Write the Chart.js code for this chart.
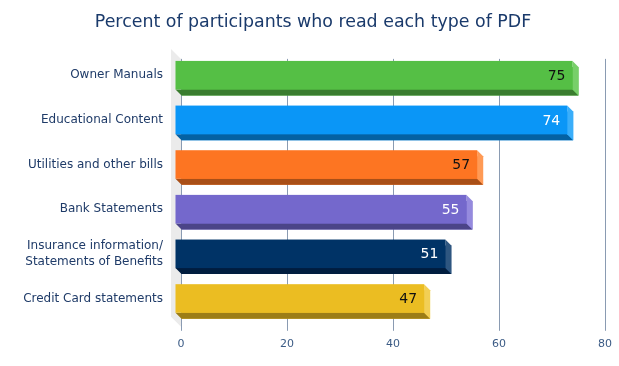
<!DOCTYPE html>
<html lang="en">
<head>
    <meta charset="UTF-8">
    <title>PDF reading</title>
    <script src="https://cdn.jsdelivr.net/npm/chart.js"></script>
    <style>
        html, body { margin: 0; padding: 0; background: #fff; }
        .chart-container { position: relative; width: 619px; height: 366px; }
    </style>
</head>
<body>
    <div class="chart-container">
        <canvas id="pdfChart"></canvas>
    </div>

    <script>
        const categories = [
            'Owner Manuals',
            'Educational Content',
            'Utilities and other bills',
            'Bank Statements',
            ['Insurance information/', 'Statements of Benefits'],
            'Credit Card statements'
        ];
        const percents = [75, 74, 57, 55, 51, 47];
        const xTicks = [0, 20, 40, 60, 80];

        const frontColors = ['#55bf45', '#0a96f7', '#fd7522', '#7468cc', '#003366', '#ebbd22'];
        const sideColors = ['#78cf6a', '#3aaefa', '#ff9a55', '#958ade', '#2e5680', '#f2cf55'];
        const bottomColors = ['#3a7d2f', '#0461a3', '#a94f17', '#4b4488', '#001d3f', '#9c7d16'];
        const labelColors = ['#111', '#fff', '#111', '#fff', '#fff', '#111'];

        const DEPTH = 6;
        const FONT = '"DejaVu Sans", Verdana, sans-serif';

        // light grey side wall behind the category axis
        const wallPlugin = {
            id: 'wall',
            beforeDraw(chart) {
                const { ctx, chartArea: a } = chart;
                ctx.save();
                ctx.fillStyle = '#ebebeb';
                ctx.beginPath();
                ctx.moveTo(a.left - 10, a.top - 10);
                ctx.lineTo(a.left, a.top);
                ctx.lineTo(a.left, a.bottom);
                ctx.lineTo(a.left - 10, a.bottom - 10);
                ctx.closePath();
                ctx.fill();
                ctx.restore();
            }
        };

        // extrude each bar: bottom face, right face, then the front face
        const bar3dPlugin = {
            id: 'bar3d',
            afterDatasetsDraw(chart) {
                const { ctx } = chart;
                const meta = chart.getDatasetMeta(0);
                const d = DEPTH;
                ctx.save();
                meta.data.forEach((bar, i) => {
                    const { x, y, base, height } = bar.getProps(['x', 'y', 'base', 'height'], true);
                    const top = y - height / 2;
                    const bot = y + height / 2;

                    ctx.fillStyle = bottomColors[i];
                    ctx.beginPath();
                    ctx.moveTo(base - d, bot - d);
                    ctx.lineTo(x - d, bot - d);
                    ctx.lineTo(x, bot);
                    ctx.lineTo(base, bot);
                    ctx.closePath();
                    ctx.fill();

                    ctx.fillStyle = sideColors[i];
                    ctx.beginPath();
                    ctx.moveTo(x - d, top - d);
                    ctx.lineTo(x, top);
                    ctx.lineTo(x, bot);
                    ctx.lineTo(x - d, bot - d);
                    ctx.closePath();
                    ctx.fill();

                    ctx.fillStyle = frontColors[i];
                    ctx.fillRect(base - d, top - d, x - base, height);

                    ctx.fillStyle = labelColors[i];
                    ctx.font = '14px ' + FONT;
                    ctx.textAlign = 'right';
                    ctx.textBaseline = 'middle';
                    ctx.fillText(percents[i], x - d - 7, y - d + 1);
                });
                ctx.restore();
            }
        };

        const ctx = document.getElementById('pdfChart').getContext('2d');
        new Chart(ctx, {
            type: 'bar',
            data: {
                labels: categories,
                datasets: [{
                    data: percents,
                    backgroundColor: frontColors,
                    borderWidth: 0,
                    barPercentage: 0.64,
                    categoryPercentage: 1
                }]
            },
            options: {
                indexAxis: 'y',
                responsive: true,
                maintainAspectRatio: false,
                animation: false,
                layout: { padding: { left: 20, right: 13, top: 0, bottom: 8 } },
                plugins: {
                    legend: { display: false },
                    tooltip: { enabled: false },
                    title: {
                        display: true,
                        text: 'Percent of participants who read each type of PDF',
                        color: '#1a3a6b',
                        font: { family: FONT, size: 17.4, weight: 'normal' },
                        padding: { top: 12, bottom: 26 }
                    }
                },
                scales: {
                    x: {
                        min: 0,
                        max: 80,
                        afterBuildTicks(scale) {
                            scale.ticks = xTicks.map(v => ({ value: v }));
                        },
                        grid: { color: '#8a9bb2', lineWidth: 1, tickLength: 4, tickColor: '#8a9bb2' },
                        border: { display: false },
                        ticks: {
                            color: '#3b5b85',
                            padding: 7,
                            font: { family: FONT, size: 11 }
                        }
                    },
                    y: {
                        afterFit(scale) { scale.width = 161; },
                        grid: { display: false, drawTicks: false },
                        border: { display: false },
                        ticks: {
                            color: '#1f3b68',
                            padding: 18,
                            labelOffset: -6,
                            font: { family: FONT, size: 12, lineHeight: 1.4 }
                        }
                    }
                }
            },
            plugins: [wallPlugin, bar3dPlugin]
        });
    </script>
</body>
</html>
